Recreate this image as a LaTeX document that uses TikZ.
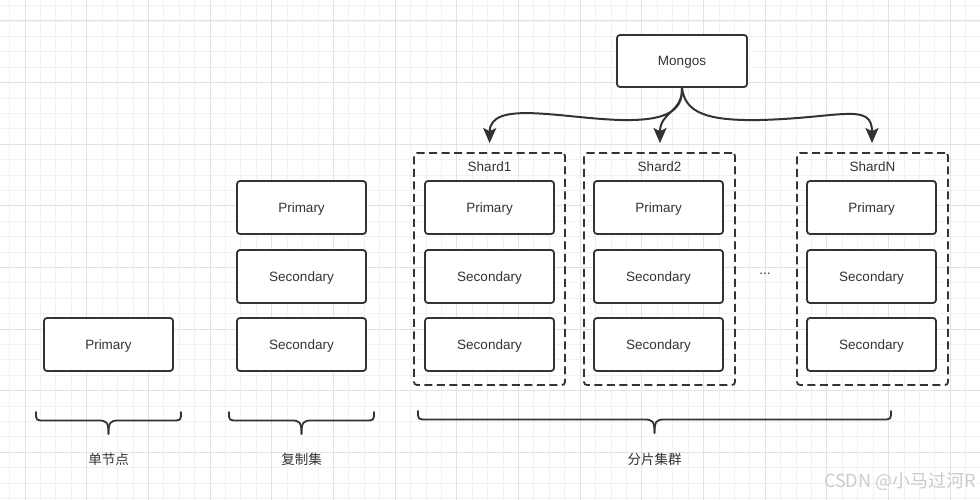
\documentclass[tikz,border=0pt]{standalone}
\usepackage{fontspec}
\setmainfont{Liberation Sans}
\newfontfamily\cjkf{Noto Sans CJK SC}
\usetikzlibrary{arrows.meta,calc}
\definecolor{lc}{HTML}{333333}
\definecolor{txt}{HTML}{333333}
\definecolor{gmin}{HTML}{F2F2F2}
\definecolor{gmaj}{HTML}{E2E2E2}
\definecolor{wm}{HTML}{CBCBCB}
\tikzset{
  boxn/.style={draw=lc, line width=1.8pt, rounded corners=3pt, minimum width=129pt, minimum height=53pt, font=\fontsize{13.5}{15}\selectfont, text=txt, fill=white, text height=9.7pt, text depth=0pt},
  shardbox/.style={draw=lc, line width=1.8pt, dash pattern=on 8pt off 4.5pt, rounded corners=3pt, minimum width=151pt, minimum height=232pt},
  lbl/.style={font=\fontsize{13.5}{15}\selectfont, text=txt, inner sep=0pt, text height=9.7pt, text depth=0pt},
  cjklbl/.style={font=\cjkf\fontsize{13.5}{15}\selectfont, text=txt, inner sep=0pt},
  conn/.style={draw=lc, line width=2pt, -{Stealth[length=15pt,width=13pt,inset=3pt]}, shorten >=9pt},
  bracest/.style={draw=lc, line width=1.8pt, line cap=round},
}
\newcommand\mkbrace[3]{%
  \draw[bracest] (#1,#3) .. controls (#1,{#3+8.5}) .. ({#1+9},{#3+8.5}) -- ({(#1+#2)/2-10},{#3+8.5})
     .. controls ({(#1+#2)/2-2},{#3+8.5}) and ({(#1+#2)/2},{#3+10}) .. ({(#1+#2)/2},{#3+22});
  \draw[bracest] ({(#1+#2)/2},{#3+22}) .. controls ({(#1+#2)/2},{#3+10}) and ({(#1+#2)/2+2},{#3+8.5}) .. ({(#1+#2)/2+10},{#3+8.5})
     -- ({#2-9},{#3+8.5}) .. controls (#2,{#3+8.5}) .. (#2,#3);
}
\begin{document}
\begin{tikzpicture}[x=1pt,y=-1pt]
\useasboundingbox (0,0) rectangle (980,500);
\fill[white] (0,0) rectangle (980,500);
% grid
\begin{scope}
\clip (0,0) rectangle (980,500);
\foreach \i in {0,...,64} {\draw[gmin, line width=0.8pt] ({9.58+15.42*\i},0) -- ({9.58+15.42*\i},500);}
\foreach \i in {0,...,33} {\draw[gmin, line width=0.8pt] (0,{5.6+15.4*\i}) -- (980,{5.6+15.4*\i});}
\foreach \i in {0,...,16} {\draw[gmaj, line width=1pt] ({25+61.67*\i},0) -- ({25+61.67*\i},500);}
\foreach \i in {0,...,8} {\draw[gmaj, line width=1pt] (0,{21+61.6*\i}) -- (980,{21+61.6*\i});}
\end{scope}

% mongos
\node[boxn, minimum width=130pt, minimum height=52pt] (mg) at (682,61) {Mongos};

% shard containers
\node[shardbox] (s1) at (489.5,269) {};
\node[shardbox] (s2) at (659.5,269) {};
\node[shardbox] (sn) at (872.5,269) {};
\node[lbl] (s1l) at (489.5,167) {Shard1};
\node[lbl] (s2l) at (659.5,167) {Shard2};
\node[lbl] (snl) at (872.5,167) {ShardN};

% single node
\node[boxn] (sp) at (108.5,344.5) {Primary};
% replica set
\node[boxn] (rp) at (301.5,207.5) {Primary};
\node[boxn] (rs1) at (301.5,276.5) {Secondary};
\node[boxn] (rs2) at (301.5,344.5) {Secondary};
% shard1
\node[boxn] (ap) at (489.5,207.5) {Primary};
\node[boxn] (as1) at (489.5,276.5) {Secondary};
\node[boxn] (as2) at (489.5,344.5) {Secondary};
% shard2
\node[boxn] (bp) at (658.5,207.5) {Primary};
\node[boxn] (bs1) at (658.5,276.5) {Secondary};
\node[boxn] (bs2) at (658.5,344.5) {Secondary};
% shardN
\node[boxn] (np) at (871.5,207.5) {Primary};
\node[boxn] (ns1) at (871.5,276.5) {Secondary};
\node[boxn] (ns2) at (871.5,344.5) {Secondary};

\node[font=\fontsize{13.5}{15}\selectfont, text=txt, inner sep=0pt] (dots) at (765,274) {...};

% connectors
\draw[conn] (mg.south) .. controls (683,112) and (665,121) .. (620,120)
  .. controls (560,118) and (490,100) .. (s1.north);
\draw[conn] (mg.south) .. controls (683,112) and (660,112) .. (s2.north -| 660,0);
\draw[conn] (mg.south) .. controls (685,112) and (705,121) .. (760,120)
  .. controls (840,118) and (872,102) .. (sn.north -| 872,0);

% braces
\mkbrace{36}{181}{412}
\mkbrace{229}{374}{412}
\mkbrace{418}{891}{411}
\node[cjklbl] (l1) at (108.5,459) {单节点};
\node[cjklbl] (l2) at (301.5,459) {复制集};
\node[cjklbl] (l3) at (654.5,459) {分片集群};

% watermark
\node[font=\cjkf\fontsize{18}{20}\selectfont, text=wm, inner sep=0pt, anchor=east] (wmk) at (976,482) {CSDN @小马过河R};
\end{tikzpicture}
\end{document}
